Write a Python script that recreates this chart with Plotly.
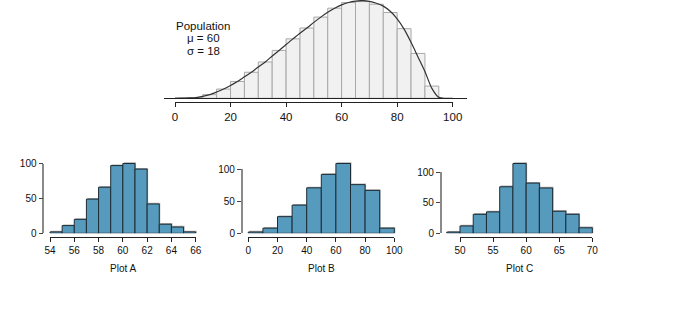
import plotly.graph_objects as go

W, H = 677, 330
FONT = "Liberation Sans, Arial, sans-serif"

# ---------------- data ----------------
# Population histogram (bins of width 5 from 0 to 95), percent per bin
pop_left = [0, 5, 10, 15, 20, 25, 30, 35, 40, 45, 50, 55, 60, 65, 70, 75, 80, 85, 90]
pop_pct = [0.02, 0.07, 0.39, 0.98, 1.79, 2.77, 3.86, 5.09, 6.32, 7.47,
           8.63, 9.58, 10.18, 10.28, 10.00, 9.12, 7.40, 4.77, 1.30]
pop_width = 5
# Population density curve (same scale)
curve_x = [0, 2.5, 5, 7.5, 10, 12.5, 15, 17.5, 20, 22.5, 25, 27.5, 30, 32.5, 35, 37.5,
           40, 42.5, 45, 47.5, 50, 52.5, 55, 57.5, 60, 62.5, 65, 67.5, 70, 72.5, 75,
           77.5, 80, 82.5, 85, 87.5, 90, 92.5, 95, 97.5, 100]
curve_y = [0, 0.01, 0.04, 0.08, 0.21, 0.39, 0.67, 0.98, 1.37, 1.79, 2.28, 2.77, 3.33,
           3.86, 4.49, 5.09, 5.72, 6.32, 6.91, 7.47, 8.07, 8.63, 9.14, 9.58, 9.93,
           10.18, 10.33, 10.39, 10.30, 10.10, 9.80, 9.25, 8.45, 7.35, 5.95, 4.40,
           2.85, 1.05, 0.1, 0, 0]
pop_ticks = [0, 20, 40, 60, 80, 100]
pop_text = ["Population", "\u03bc = 60", "\u03c3 = 18"]

# Sampling distributions
A_left = [54, 55, 56, 57, 58, 59, 60, 61, 62, 63, 64, 65]
A_counts = [2, 11, 20, 49, 66, 97, 100, 92, 42, 13, 9, 2]
A_width = 1
A_ticks = [54, 56, 58, 60, 62, 64, 66]

B_left = [0, 10, 20, 30, 40, 50, 60, 70, 80, 90]
B_counts = [2, 8, 26, 44, 71, 92, 109, 76, 67, 8]
B_width = 10
B_ticks = [0, 20, 40, 60, 80, 100]

C_left = [48, 50, 52, 54, 56, 58, 60, 62, 64, 66, 68]
C_counts = [2, 12, 31, 35, 76, 114, 82, 74, 36, 31, 9]
C_width = 2
C_ticks = [50, 55, 60, 65, 70]

y_ticks = [0, 50, 100]
labels = ["Plot A", "Plot B", "Plot C"]

# ---------------- helpers ----------------
def fx(px):
    return px / W

def fy(py):
    return 1 - py / H

def lin(v0, p0, v1, p1):
    k = (p1 - p0) / (v1 - v0)
    return (lambda v: p0 + (v - v0) * k), k

fig = go.Figure()
layout = dict(
    template="none",
    width=W, height=H, margin=dict(l=0, r=0, t=0, b=0, pad=0, autoexpand=False),
    paper_bgcolor="white", plot_bgcolor="rgba(0,0,0,0)",
    showlegend=False, barmode="overlay",
    font=dict(family=FONT, color="#111"),
    annotations=[],
)

# ---------------- top: population ----------------
xm, kx = lin(0, 175.0, 100, 452.7)
top_lo, top_hi = -4, 105
base_py = 98.3
ytop = 10.45
layout["xaxis"] = dict(domain=[fx(xm(top_lo)), fx(xm(top_hi))], range=[top_lo, top_hi],
                       showline=True, linecolor="#222", linewidth=1, ticks="",
                       showticklabels=False, showgrid=False, zeroline=False,
                       automargin=False)
layout["yaxis"] = dict(domain=[fy(base_py), 1.0], range=[0, ytop], visible=False,
                       showgrid=False, zeroline=False, automargin=False)
layout["xaxis2"] = dict(domain=[fx(xm(pop_ticks[0])), fx(xm(pop_ticks[-1]))],
                        range=[pop_ticks[0], pop_ticks[-1]], anchor="free",
                        position=fy(102.3), showline=True, linecolor="#222", linewidth=1,
                        ticks="outside", ticklen=4, tickcolor="#222", tickvals=pop_ticks,
                        tickfont=dict(size=11.5, family=FONT, color="#111"),
                        showgrid=False, zeroline=False, automargin=False)

fig.add_trace(go.Bar(x=[l + pop_width / 2 for l in pop_left], y=pop_pct, width=pop_width,
                     marker=dict(color="#F1F1F1", line=dict(color="#A8A8A8", width=1)),
                     xaxis="x", yaxis="y", hoverinfo="skip"))
fig.add_trace(go.Scatter(x=curve_x, y=curve_y, mode="lines",
                         line=dict(color="#333", width=1.2, shape="spline", smoothing=0.8),
                         xaxis="x", yaxis="y", hoverinfo="skip"))
fig.add_trace(go.Scatter(x=[pop_ticks[0], pop_ticks[-1]], y=[0, 0], mode="markers",
                         marker=dict(opacity=0, size=1), xaxis="x2", yaxis="y",
                         hoverinfo="skip"))

for txt, py in zip(pop_text, [25.7, 38.3, 51.0]):
    layout["annotations"].append(dict(text=txt, x=fx(203), y=fy(py), xref="paper",
                                      yref="paper", xanchor="center", yanchor="middle",
                                      showarrow=False,
                                      font=dict(size=11.5, family=FONT, color="#111")))

# ---------------- bottom panels ----------------
panels = [
    (A_left, A_counts, A_width, A_ticks, 50.0, 195.7, 43.3),
    (B_left, B_counts, B_width, B_ticks, 248.3, 394.3, 241.7),
    (C_left, C_counts, C_width, C_ticks, 460.0, 592.3, 440.7),
]
y_bottom = 233.3
plot_h = 69.8
xline_py = 236.5

for i, (lefts, counts, bw, ticks, p0, p1, yline_px) in enumerate(panels):
    n = 3 + 2 * i  # data axes
    d = n + 1       # display axes
    xm, kx = lin(ticks[0], p0, ticks[-1], p1)
    lo = min(lefts[0], ticks[0])
    hi = max(lefts[-1] + bw, ticks[-1])
    ymax = max(counts)
    ky = plot_h / ymax
    pad_x = 3 / kx
    pad_y = 4 / ky
    layout[f"xaxis{n}"] = dict(domain=[fx(xm(lo - pad_x)), fx(xm(hi + pad_x))],
                               range=[lo - pad_x, hi + pad_x], visible=False,
                               anchor=f"y{n}", showgrid=False, zeroline=False,
                               automargin=False)
    layout[f"yaxis{n}"] = dict(domain=[fy(y_bottom), fy(y_bottom - (ymax + pad_y) * ky)],
                               range=[0, ymax + pad_y], visible=False,
                               anchor=f"x{n}", showgrid=False, zeroline=False,
                               automargin=False)
    layout[f"xaxis{d}"] = dict(domain=[fx(xm(ticks[0])), fx(xm(ticks[-1]))],
                               range=[ticks[0], ticks[-1]], anchor="free",
                               position=fy(xline_py), showline=True, linecolor="#222",
                               linewidth=1, ticks="outside", ticklen=4, tickcolor="#222",
                               tickvals=ticks,
                               tickfont=dict(size=10, family=FONT, color="#111"),
                               showgrid=False, zeroline=False, automargin=False)
    layout[f"yaxis{d}"] = dict(domain=[fy(y_bottom), fy(y_bottom - y_ticks[-1] * ky)],
                               range=[y_ticks[0], y_ticks[-1]], anchor="free",
                               position=fx(yline_px), side="left", showline=True,
                               linecolor="#8a8a8a", linewidth=1.5, ticks="outside",
                               ticklen=4, tickcolor="#444", tickvals=y_ticks,
                               tickfont=dict(size=10, family=FONT, color="#111"),
                               showgrid=False, zeroline=False, automargin=False)
    centers = [l + bw / 2 for l in lefts]
    fig.add_trace(go.Bar(x=[c + 1.0 / kx for c in centers], y=[v + 1.2 / ky for v in counts],
                         width=bw, marker=dict(color="rgba(110,110,110,0.55)", line=dict(width=0)),
                         xaxis=f"x{n}", yaxis=f"y{n}", hoverinfo="skip"))
    fig.add_trace(go.Bar(x=centers, y=counts, width=bw,
                         marker=dict(color="#569BBD", line=dict(color="#1E2C35", width=1)),
                         xaxis=f"x{n}", yaxis=f"y{n}", hoverinfo="skip"))
    fig.add_trace(go.Scatter(x=[ticks[0], ticks[-1]], y=[y_ticks[0], y_ticks[-1]],
                             mode="markers", marker=dict(opacity=0, size=1),
                             xaxis=f"x{d}", yaxis=f"y{d}", hoverinfo="skip"))
    layout["annotations"].append(dict(text=labels[i], x=fx((xm(lo) + xm(hi)) / 2),
                                      y=fy(268), xref="paper", yref="paper",
                                      xanchor="center", yanchor="middle", showarrow=False,
                                      font=dict(size=10, family=FONT, color="#111")))

fig.update_layout(**layout)
fig.write_html("out.html")
